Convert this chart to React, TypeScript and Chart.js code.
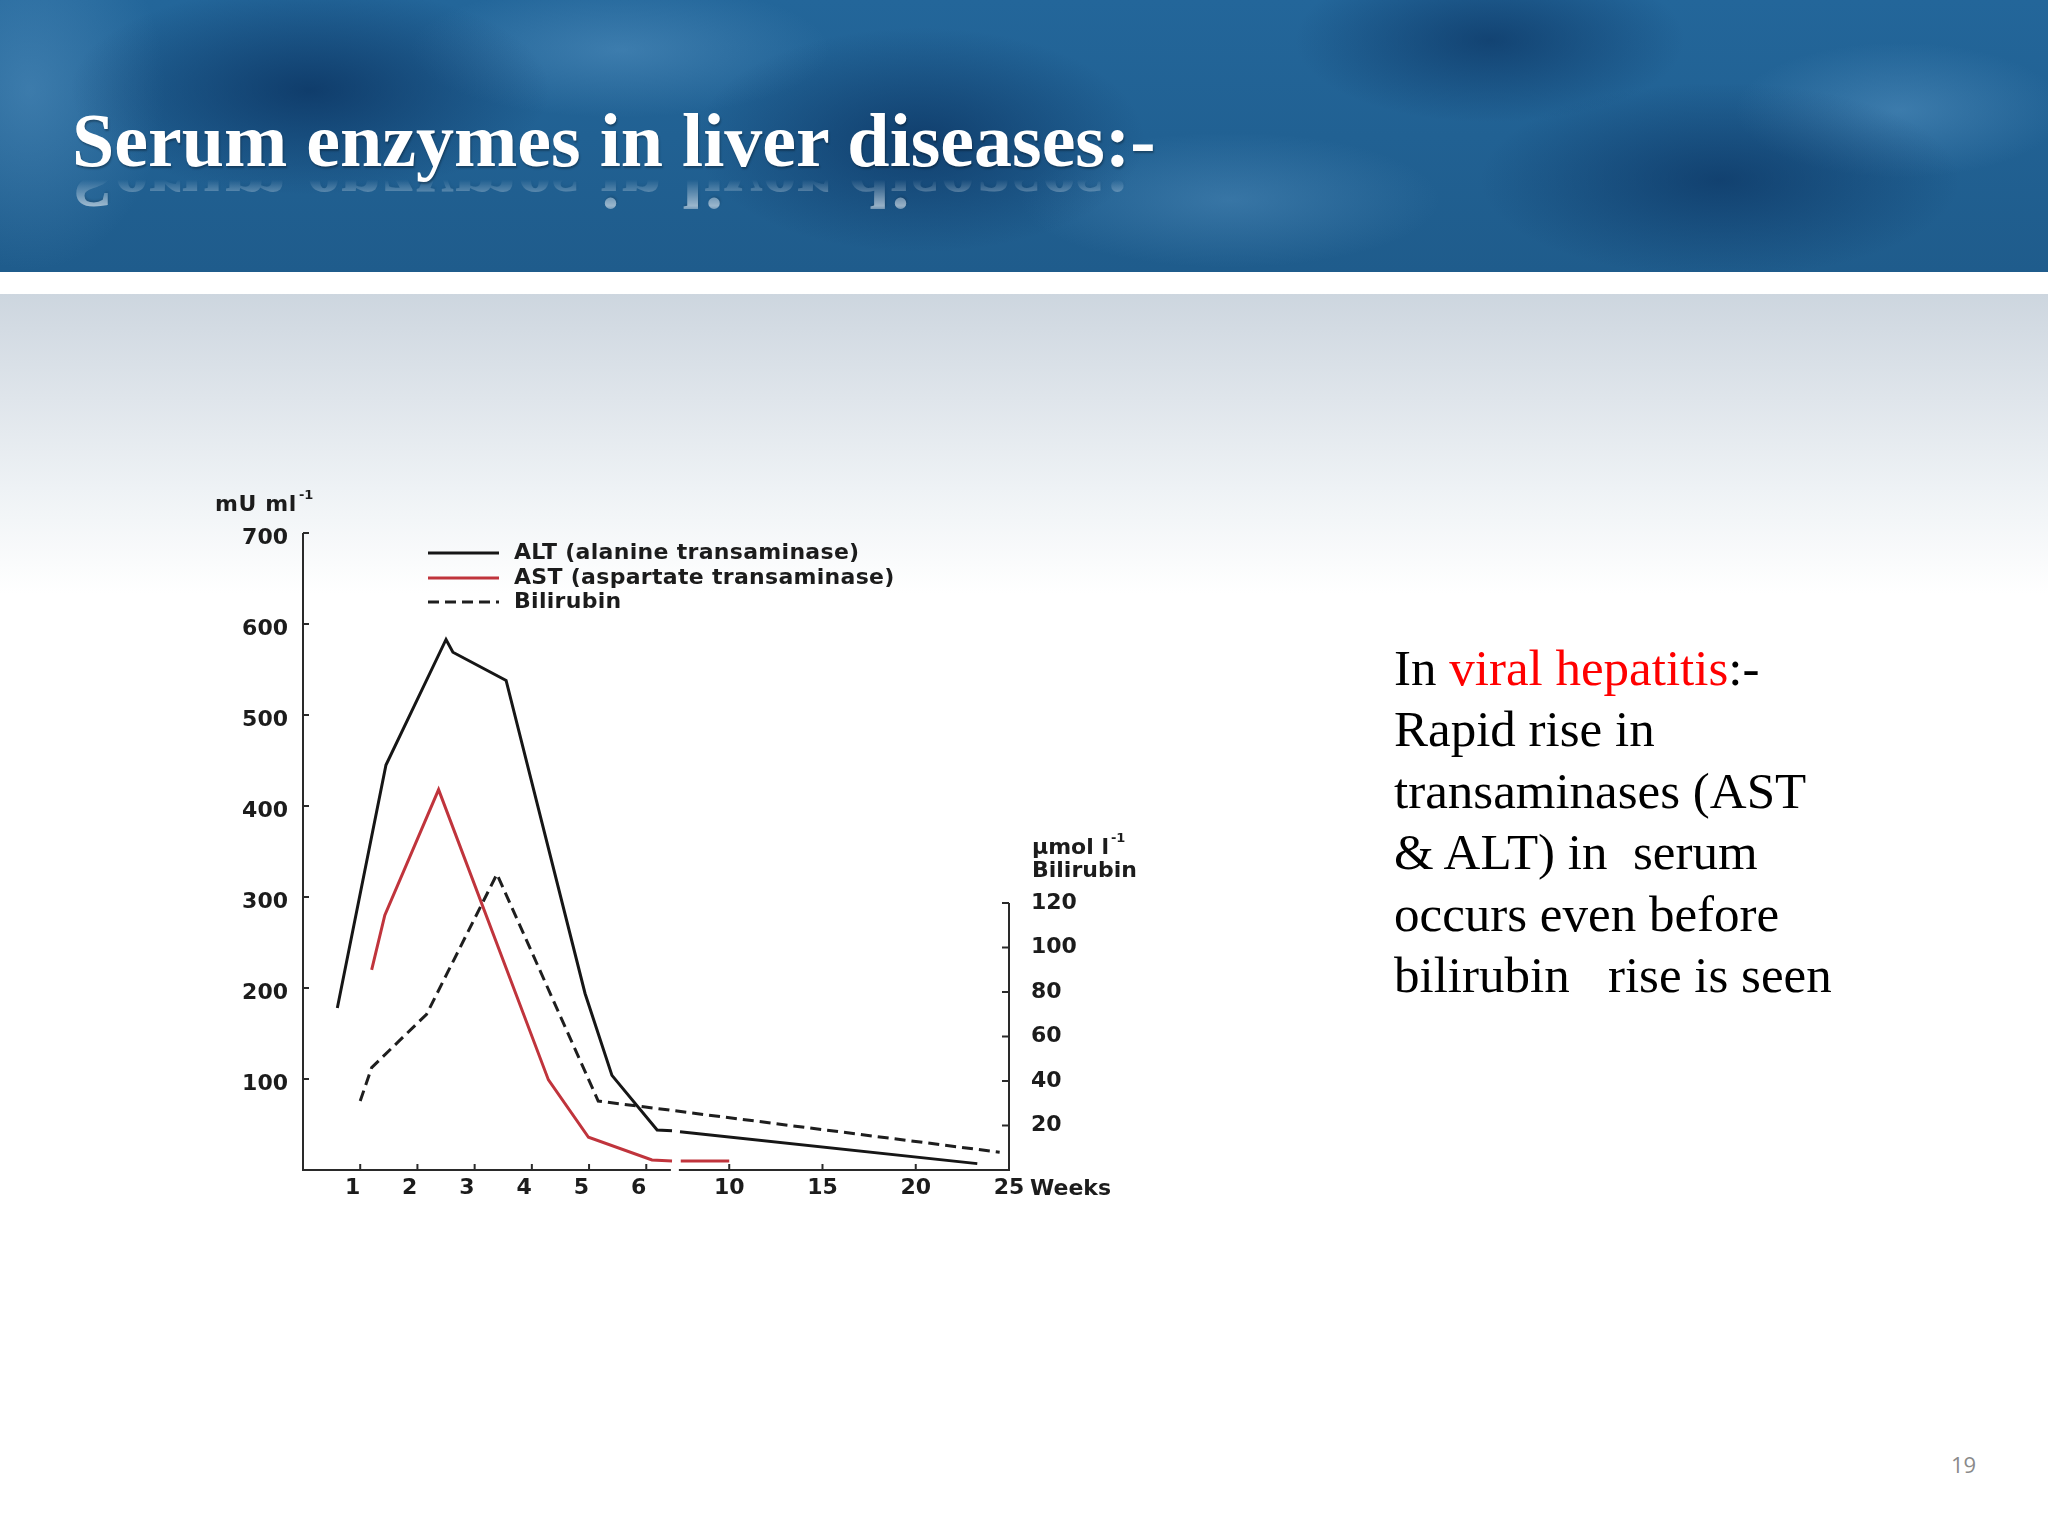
import React, { useEffect, useRef } from "react";
import { Chart, registerables } from "chart.js";

Chart.register(...registerables);

// ---------- data ----------
// x = weeks, y = value (null = line break at the broken x axis)
const altWeeks = [0.6, 1.45, 2.5, 2.62, 3.55, 4.93, 5.4, 6.19, 6.45, 6.5, 7.36, 23.3];
const altValues = [178, 445, 583, 569, 538, 194, 104, 44, 43, null, 42, 7];

const astWeeks = [1.2, 1.43, 2.37, 4.29, 4.99, 6.1, 6.45, 6.5, 7.4, 10];
const astValues = [220, 280, 418, 99, 36, 11, 10, null, 10, 10];

// bilirubin in µmol/l (right axis)
const biliWeeks = [1.0, 1.2, 2.16, 3.39, 5.16, 24.5];
const biliValues = [31, 46, 70, 133, 31, 8];

const seriesLabels = [
  "ALT (alanine transaminase)",
  "AST (aspartate transaminase)",
  "Bilirubin",
];

const xTickWeeks = [1, 2, 3, 4, 5, 6, 10, 15, 20, 25];
const leftTicks = [100, 200, 300, 400, 500, 600, 700];
const rightTicks = [20, 40, 60, 80, 100, 120];

// ---------- broken x axis: weeks 0–6.5 at full scale, then 7.4–25 compressed ----------
const BREAK_FROM = 6.5;
function weekToAxis(w: number): number {
  return w <= BREAK_FROM ? w : 7.45 + (w - 10) * 0.326;
}

// ---------- layout ----------
const CANVAS_LEFT = 150;
const CANVAS_TOP = 460;
const CANVAS_W = 1150;
const CANVAS_H = 820;
const AREA = { left: 303, right: 1009, top: 533, bottom: 1170 };
const RIGHT_MAX = 286.3;

const AXIS_COLOR = "#2a2a2a";
const TEXT_COLOR = "#1c1c1c";
const ALT_COLOR = "#161616";
const AST_COLOR = "#c0343c";
const BILI_COLOR = "#1e1e1e";
const FONT_FAMILY = '"DejaVu Sans", "Liberation Sans", sans-serif';

function toPoints(weeks: number[], values: (number | null)[]) {
  return weeks.map((w, i) => ({ x: weekToAxis(w), y: values[i] }));
}

const decorPlugin = {
  id: "decor",
  afterDraw(chart: any) {
    const ctx: any = chart.ctx;
    const { left, right, bottom } = chart.chartArea;
    const xs = chart.scales.x;
    const ys = chart.scales.y;
    const y2 = chart.scales.y2;
    ctx.save();
    ctx.strokeStyle = AXIS_COLOR;
    ctx.lineWidth = 2;
    ctx.lineCap = "butt";
    const seg = (x1: number, y1: number, x2: number, y2_: number) => {
      ctx.beginPath();
      ctx.moveTo(x1, y1);
      ctx.lineTo(x2, y2_);
      ctx.stroke();
    };
    // left axis
    seg(left, bottom + 1, left, ys.getPixelForValue(700));
    // x axis with break
    seg(left - 1, bottom, xs.getPixelForValue(weekToAxis(6.43)), bottom);
    seg(xs.getPixelForValue(weekToAxis(7.3)), bottom, right + 1, bottom);
    // right axis 0..120
    seg(right, bottom + 1, right, y2.getPixelForValue(120));
    // inward tick marks
    leftTicks.forEach((v) => {
      const p = ys.getPixelForValue(v);
      seg(left, p, left + 6, p);
    });
    rightTicks.forEach((v) => {
      const p = y2.getPixelForValue(v);
      seg(right, p, right - 7, p);
    });
    xTickWeeks.forEach((w) => {
      const p = xs.getPixelForValue(weekToAxis(w));
      seg(p, bottom, p, bottom - 6);
    });

    // legend
    const legendX1 = 278;
    const legendX2 = 349;
    const legendTextX = 364;
    const rows = [93, 118, 142];
    chart.data.datasets.forEach((ds: any, i: number) => {
      ctx.strokeStyle = ds.borderColor;
      ctx.lineWidth = 3;
      ctx.setLineDash(ds.borderDash || []);
      seg(legendX1, rows[i], legendX2, rows[i]);
      ctx.setLineDash([]);
      ctx.fillStyle = TEXT_COLOR;
      ctx.font = `bold 22px ${FONT_FAMILY}`;
      ctx.letterSpacing = "0.3px";
      ctx.textBaseline = "middle";
      ctx.textAlign = "left";
      ctx.fillText(ds.label, legendTextX, rows[i]);
      ctx.letterSpacing = "0px";
    });

    // axis titles
    ctx.fillStyle = TEXT_COLOR;
    ctx.textBaseline = "middle";
    ctx.textAlign = "left";
    ctx.font = `bold 22px ${FONT_FAMILY}`;
    ctx.letterSpacing = "0.6px";
    ctx.fillText("mU ml", 65, 45);
    let w = ctx.measureText("mU ml").width;
    ctx.letterSpacing = "0px";
    ctx.font = `bold 13px ${FONT_FAMILY}`;
    ctx.fillText("-1", 65 + w + 2, 36);

    const rtX = right + 23;
    const rtY = y2.getPixelForValue(120);
    ctx.font = `bold 22px ${FONT_FAMILY}`;
    ctx.fillText("\u03bcmol l", rtX, rtY - 55);
    w = ctx.measureText("\u03bcmol l").width;
    ctx.font = `bold 13px ${FONT_FAMILY}`;
    ctx.fillText("-1", rtX + w + 2, rtY - 64);
    ctx.font = `bold 22px ${FONT_FAMILY}`;
    ctx.fillText("Bilirubin", rtX, rtY - 32);

    // "Weeks" after the last x tick
    ctx.font = `bold 22px ${FONT_FAMILY}`;
    ctx.fillText("Weeks", right + 21, bottom + 19);
    ctx.restore();
  },
};

export default function App() {
  const canvasRef = useRef<HTMLCanvasElement>(null);

  useEffect(() => {
    document.body.style.margin = "0";
    const canvas = canvasRef.current!;
    const tickFont = { family: FONT_FAMILY, size: 22, weight: "bold" as const };
    const chart = new Chart(canvas, {
      type: "line",
      data: {
        datasets: [
          {
            label: seriesLabels[0],
            data: toPoints(altWeeks, altValues),
            borderColor: ALT_COLOR,
            borderWidth: 3,
            yAxisID: "y",
            spanGaps: false,
          },
          {
            label: seriesLabels[1],
            data: toPoints(astWeeks, astValues),
            borderColor: AST_COLOR,
            borderWidth: 3,
            yAxisID: "y",
            spanGaps: false,
          },
          {
            label: seriesLabels[2],
            data: toPoints(biliWeeks, biliValues),
            borderColor: BILI_COLOR,
            borderWidth: 3,
            borderDash: [11, 6],
            yAxisID: "y2",
          },
        ],
      } as any,
      options: {
        responsive: false,
        animation: false,
        devicePixelRatio: 1,
        layout: { padding: { top: AREA.top - CANVAS_TOP, left: 0, right: 0, bottom: 0 } },
        elements: { point: { radius: 0, hoverRadius: 0 }, line: { tension: 0, fill: false } },
        plugins: { legend: { display: false }, tooltip: { enabled: false } },
        scales: {
          x: {
            type: "linear",
            min: 0,
            max: weekToAxis(25),
            grid: { display: false, drawTicks: false },
            border: { display: false },
            afterBuildTicks: (s: any) => {
              s.ticks = xTickWeeks.map((wk) => ({ value: weekToAxis(wk) }));
            },
            afterFit: (s: any) => {
              s.height = CANVAS_TOP + CANVAS_H - AREA.bottom;
            },
            ticks: {
              autoSkip: false,
              maxRotation: 0,
              padding: 5,
              color: TEXT_COLOR,
              font: tickFont,
              // labels of the first segment sit slightly left of their tick marks
              callback: (_v: any, i: number) =>
                xTickWeeks[i] <= BREAK_FROM ? `${xTickWeeks[i]}  ` : String(xTickWeeks[i]),
            },
          },
          y: {
            type: "linear",
            position: "left",
            min: 0,
            max: 700,
            grid: { display: false, drawTicks: false },
            border: { display: false },
            afterBuildTicks: (s: any) => {
              s.ticks = leftTicks.map((v) => ({ value: v }));
            },
            afterFit: (s: any) => {
              s.width = AREA.left - CANVAS_LEFT;
            },
            ticks: { padding: 15, labelOffset: 5, color: TEXT_COLOR, font: tickFont },
          },
          y2: {
            type: "linear",
            position: "right",
            min: 0,
            max: RIGHT_MAX,
            grid: { display: false, drawTicks: false },
            border: { display: false },
            afterBuildTicks: (s: any) => {
              s.ticks = rightTicks.map((v) => ({ value: v }));
            },
            afterFit: (s: any) => {
              s.width = CANVAS_LEFT + CANVAS_W - AREA.right;
            },
            ticks: { padding: 22, color: TEXT_COLOR, font: tickFont },
          },
        },
      } as any,
      plugins: [decorPlugin],
    });
    return () => chart.destroy();
  }, []);

  const headerBg = [
    "radial-gradient(ellipse 320px 140px at 310px 90px, rgba(8,45,90,0.7), rgba(8,45,90,0) 75%)",
    "radial-gradient(ellipse 300px 150px at 920px 140px, rgba(8,45,90,0.65), rgba(8,45,90,0) 75%)",
    "radial-gradient(ellipse 260px 110px at 1490px 40px, rgba(8,45,90,0.6), rgba(8,45,90,0) 75%)",
    "radial-gradient(ellipse 320px 130px at 1720px 180px, rgba(8,45,90,0.6), rgba(8,45,90,0) 75%)",
    "radial-gradient(ellipse 280px 90px at 620px 50px, rgba(110,170,215,0.35), rgba(110,170,215,0) 75%)",
    "radial-gradient(ellipse 280px 90px at 1230px 200px, rgba(110,170,215,0.3), rgba(110,170,215,0) 75%)",
    "radial-gradient(ellipse 220px 90px at 1900px 110px, rgba(110,170,215,0.35), rgba(110,170,215,0) 75%)",
    "radial-gradient(ellipse 180px 240px at 30px 90px, rgba(100,160,205,0.4), rgba(100,160,205,0) 75%)",
    "linear-gradient(180deg, #23669a, #1f5c8c)",
  ].join(", ");

  return (
    <div
      style={{
        position: "absolute",
        left: 0,
        top: 0,
        width: 2048,
        height: 1536,
        overflow: "hidden",
        background: "#ffffff",
      }}
    >
      <div style={{ position: "absolute", left: 0, top: 0, width: 2048, height: 272, background: headerBg }} />
      <div
        style={{
          position: "absolute",
          left: 72,
          top: 97,
          font: 'bold 76px "Liberation Serif", "Times New Roman", serif',
          color: "#ffffff",
          whiteSpace: "nowrap",
          textShadow: "1px 2px 2px rgba(0,0,0,0.3)",
          WebkitBoxReflect:
            "below -46px linear-gradient(to bottom, rgba(0,0,0,0) 10%, rgba(0,0,0,0.55) 22%, rgba(0,0,0,0) 52%)",
        } as any}
      >
        Serum enzymes in liver diseases:-
      </div>
      <div
        style={{
          position: "absolute",
          left: 0,
          top: 294,
          width: 2048,
          height: 300,
          background: "linear-gradient(180deg, #cdd6df 0%, #dfe5eb 35%, #eef2f5 65%, #ffffff 100%)",
        }}
      />
      <canvas
        ref={canvasRef}
        width={CANVAS_W}
        height={CANVAS_H}
        style={{ position: "absolute", left: CANVAS_LEFT, top: CANVAS_TOP, width: CANVAS_W, height: CANVAS_H }}
      />
      <div
        style={{
          position: "absolute",
          left: 1394,
          top: 638,
          font: '51px "Liberation Serif", "Times New Roman", serif',
          lineHeight: "61.4px",
          color: "#000000",
          whiteSpace: "pre",
        }}
      >
        <div>
          In <span style={{ color: "#ff0000" }}>viral hepatitis</span>:-
        </div>
        <div>Rapid rise in</div>
        <div>transaminases (AST</div>
        <div>{"& ALT) in  serum"}</div>
        <div>occurs even before</div>
        <div>{"bilirubin   rise is seen"}</div>
      </div>
      <div
        style={{
          position: "absolute",
          left: 1951,
          top: 1449,
          font: '22px "Open Sans", sans-serif',
          color: "#8a8a8a",
        }}
      >
        19
      </div>
    </div>
  );
}
